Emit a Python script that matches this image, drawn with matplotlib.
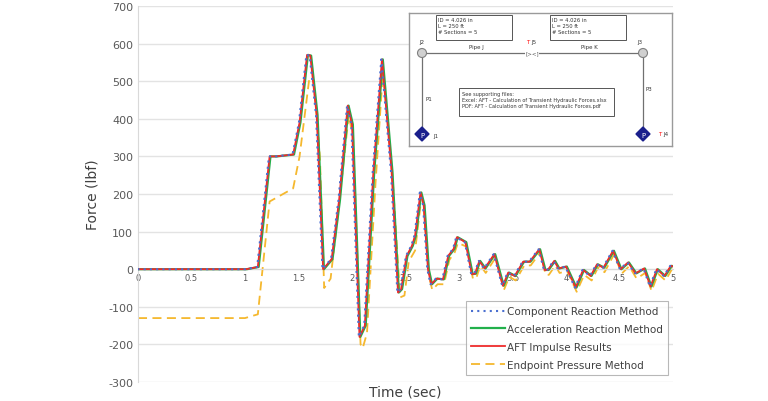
import matplotlib
matplotlib.use("Agg")
import matplotlib.pyplot as plt
from matplotlib.patches import Rectangle, RegularPolygon, Circle
plt.rcParams['axes.unicode_minus'] = False

t_main = [0, 1.01, 1.12, 1.23, 1.29, 1.45, 1.51, 1.58, 1.61, 1.67, 1.73, 1.81, 1.88, 1.96, 2.0, 2.07, 2.12,
          2.2, 2.28, 2.37, 2.43, 2.46, 2.51, 2.56, 2.59, 2.64, 2.67, 2.71, 2.74, 2.79, 2.85, 2.9, 2.95, 2.98,
          3.06, 3.12, 3.15, 3.19, 3.24, 3.33, 3.41, 3.46, 3.52, 3.6, 3.66, 3.75, 3.8, 3.83, 3.89, 3.93, 4.0,
          4.09, 4.16, 4.23, 4.29, 4.35, 4.44, 4.51, 4.58, 4.65, 4.73, 4.79, 4.85, 4.92, 4.98, 5.0]
f_main = [0, 0, 6, 300, 300, 305, 390, 570, 568, 410, 0, 27, 185, 435, 385, -180, -150,
          260, 558, 260, -62, -53, 35, 62, 90, 204, 170, 0, -40, -25, -27, 36, 54, 85,
          72, -13, -12, 22, 2, 40, -44, -9, -18, 20, 20, 53, -2, -2, 22, 2, 7,
          -49, -2, -18, 13, 4, 49, 0, 18, -11, 2, -46, 0, -18, 9, 7]
t_green = [v + 0.008 for v in t_main]
t_blue = [v - 0.006 for v in t_main]

t_end = [0, 1.0, 1.12, 1.23, 1.45, 1.51, 1.6, 1.64, 1.7, 1.74, 1.8, 1.87, 1.97, 2.01, 2.08, 2.1, 2.14,
         2.22, 2.29, 2.38, 2.45, 2.49, 2.53, 2.59, 2.64, 2.67, 2.72, 2.75, 2.8, 2.86, 2.91, 2.96, 2.99,
         3.07, 3.13, 3.16, 3.2, 3.25, 3.34, 3.42, 3.47, 3.53, 3.61, 3.67, 3.76, 3.81, 3.84, 3.9, 3.94, 4.01,
         4.1, 4.17, 4.24, 4.3, 4.36, 4.45, 4.52, 4.59, 4.66, 4.74, 4.8, 4.86, 4.93, 4.99, 5.0]
f_end = [-130, -130, -120, 180, 215, 300, 505, 505, 300, -50, -25, 150, 410, 350, -200, -210, -170,
         230, 530, 240, -75, -70, 20, 50, 170, 160, -20, -55, -40, -40, 25, 45, 70,
         60, -25, -25, 10, -10, 30, -55, -20, -30, 10, 10, 45, -15, -15, 10, -10, -5,
         -60, -15, -30, 5, -8, 40, -12, 8, -25, -10, -58, -12, -30, 0, 0]

yticks = [-300, -200, -100, 0, 100, 200, 300, 400, 500, 600, 700]
xticks = [0, 0.5, 1, 1.5, 2, 2.5, 3, 3.5, 4, 4.5, 5]
xticklabels = ["0", "0.5", "1", "1.5", "2", "2.5", "3", "3.5", "4", "4.5", "5"]

fig = plt.figure(figsize=(7.68, 4.02), dpi=100)
ax = fig.add_axes([138/768, 1-383/402, (673-138)/768, (383-7)/402])
ax.set_xlim(0, 5)
ax.set_ylim(-300, 700)
ax.set_yticks(yticks)
ax.set_xticks(xticks)
ax.set_xticklabels(xticklabels)
ax.grid(axis="y", color="#e3e3e3", lw=1)
ax.set_axisbelow(True)
for s in ["top", "right"]:
    ax.spines[s].set_visible(False)
ax.spines["bottom"].set_position(("data", 0))
ax.spines["bottom"].set_color("#d9d9d9")
ax.spines["left"].set_color("#d9d9d9")
ax.tick_params(axis="y", length=0, labelsize=8, labelcolor="#595959")
ax.tick_params(axis="x", length=0, labelsize=6, labelcolor="#595959", pad=3)

ax.plot(t_end, f_end, color="#f5b82e", lw=1.3, ls=(0, (5, 3)), label="Endpoint Pressure Method", zorder=2)
l3, = ax.plot(t_green, f_main, color="#22b04b", lw=1.6, label="Acceleration Reaction Method", zorder=3)
l4, = ax.plot(t_main, f_main, color="#ee2b2b", lw=1.3, label="AFT Impulse Results", zorder=4)
l1, = ax.plot(t_blue, f_main, color="#4a6fd0", lw=1.5, ls=(0, (1, 2)), label="Component Reaction Method", zorder=5)
handles = [l1, l3, l4, ax.lines[0]]
leg = ax.legend(handles=handles, loc="lower right", bbox_to_anchor=(1.0, 0.005), fontsize=7.5,
                frameon=True, fancybox=False, edgecolor="#a6a6a6", handlelength=3.2,
                labelspacing=0.75, borderpad=0.5, handletextpad=0.2, labelcolor="#404040")
leg.get_frame().set_linewidth(0.8)

ax.set_ylabel("Force (lbf)", fontsize=10, color="#404040", labelpad=6)
fig.text((138+673)/2/768, 1-393/402, "Time (sec)", ha="center", va="center", fontsize=10, color="#404040")

# inset diagram
ins = fig.add_axes([409/768, 1-147/402, (672-409)/768, (147-14)/402])
ins.set_xlim(0, 263); ins.set_ylim(133, 0)
ins.set_xticks([]); ins.set_yticks([])
for s in ins.spines.values():
    s.set_color("#9a9a9a"); s.set_linewidth(1)
g = "#707070"
ins.plot([13, 234], [40, 40], color=g, lw=0.9)
ins.plot([13, 13], [40, 120], color=g, lw=0.9)
ins.plot([234, 234], [40, 120], color=g, lw=0.9)
for x in (13, 234):
    ins.add_patch(Circle((x, 40), 4.5, fc="#d0d0d0", ec="#808080", lw=0.8, zorder=3))
    ins.add_patch(RegularPolygon((x, 121), 4, radius=7, fc="#1a1f8c", ec="#1a1f8c", zorder=3))
    ins.text(x, 121.5, "P", color="white", fontsize=5, ha="center", va="center", zorder=4)
for (x0, x1) in ((27, 103), (141, 217)):
    ins.add_patch(Rectangle((x0, 2), x1 - x0, 25, fc="white", ec="#555", lw=0.7))
    ins.text(x0 + 2, 4, "ID = 4.026 in\nL = 250 ft\n# Sections = 5", fontsize=3.8, va="top", color="#333", linespacing=1.2)
ins.add_patch(Rectangle((50, 75), 155, 28, fc="white", ec="#555", lw=0.7))
ins.text(53, 78, "See supporting files:\nExcel: AFT - Calculation of Transient Hydraulic Forces.xlsx\nPDF: AFT - Calculation of Transient Hydraulic Forces.pdf",
         fontsize=3.6, va="top", color="#333", linespacing=1.2)
ins.text(10, 30, "J2", fontsize=4, color="#333"); ins.text(228, 30, "J3", fontsize=4, color="#333")
ins.text(117, 30, "T", fontsize=4, color="red"); ins.text(122, 30, "J5", fontsize=4, color="#333")
ins.text(60, 35, "Pipe J", fontsize=4, color="#333"); ins.text(172, 35, "Pipe K", fontsize=4, color="#333")
ins.text(16, 87, "P1", fontsize=4, color="#333"); ins.text(237, 77, "P3", fontsize=4, color="#333")
ins.text(24, 124, "J1", fontsize=4, color="#333")
ins.text(249, 122, "T", fontsize=4, color="red"); ins.text(254, 122, "J4", fontsize=4, color="#333")
ins.text(123, 40, "[><]", fontsize=4, ha="center", va="center", color="#555",
         bbox=dict(fc="white", ec="none", pad=0.2))

fig.savefig("out.png", dpi=100)
